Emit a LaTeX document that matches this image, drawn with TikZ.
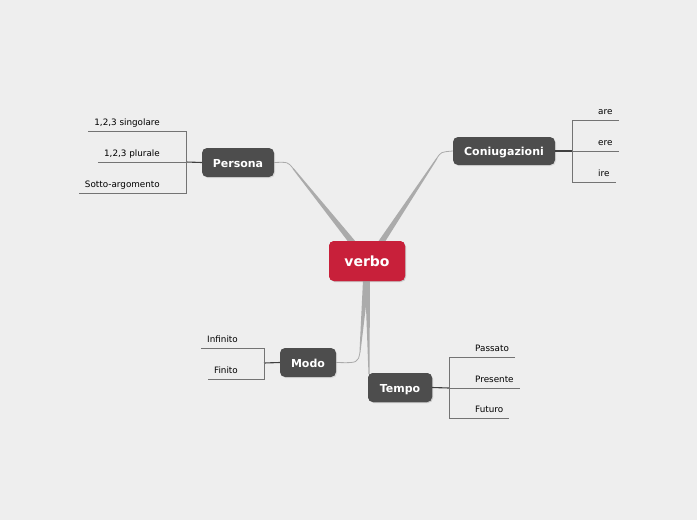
\documentclass[tikz,border=0pt]{standalone}
\usepackage{fontspec}
\setmainfont{DejaVu Sans}
\usetikzlibrary{shadows}
\definecolor{bg}{HTML}{EEEEEE}
\definecolor{topicred}{HTML}{C8203A}
\definecolor{topicgray}{HTML}{4D4D4D}
\definecolor{trunkgray}{HTML}{ABABAB}
\tikzset{
  topic/.style={fill=topicgray, text=white, rounded corners=5pt, font=\fontsize{11}{13}\selectfont\bfseries,
    inner sep=0pt, minimum height=29pt, text height=9pt, text depth=0pt,
    drop shadow={opacity=.18, shadow xshift=1pt, shadow yshift=-1pt}},
  central/.style={topic, fill=topicred, font=\fontsize{14}{16}\selectfont\bfseries, minimum width=76pt,
    minimum height=40pt, text height=11.5pt, text depth=0pt},
  leaf/.style={font=\fontsize{8.8}{10}\selectfont, inner xsep=6pt, inner ysep=3pt, text height=6.5pt, text depth=2pt},
  trunk/.style={fill=trunkgray},
  twig/.style={draw=trunkgray, line width=.8pt},
  stem/.style={draw=black!75, line width=1.1pt},
  rule/.style={draw=black!55, line width=.7pt}
}
\begin{document}
\begin{tikzpicture}[x=1pt,y=-1pt]
  \fill[bg] (0,0) rectangle (697,520);
  \useasboundingbox (0,0) rectangle (697,520);

  % main topics
  \node[central] (verbo) at (367,261) {verbo};
  \node[topic, minimum width=72pt] (persona) at (238,162.5) {Persona};
  \node[topic, minimum width=102pt, minimum height=28pt] (coniug) at (504,151) {Coniugazioni};
  \node[topic, minimum width=56pt] (modo) at (308,362.5) {Modo};
  \node[topic, minimum width=64pt] (tempo) at (400,387.5) {Tempo};

  % branches from the centre
  \fill[trunk] ([xshift=-18pt,yshift=-2pt]verbo.north) -- ([xshift=-12pt]verbo.north) -- (293.5,168) -- (292.5,168.8) -- cycle;
  \draw[twig] (293,168.4) .. controls (288,162) .. (persona.east);
  \fill[trunk] ([xshift=11pt,yshift=-1pt]verbo.north) -- ([xshift=18pt,yshift=-1pt]verbo.north) -- (437.5,158.5) -- (436.5,157.8) -- cycle;
  \draw[twig] (437,158) .. controls (441,152) .. (coniug.west);
  \fill[trunk] ([xshift=-4pt,yshift=1pt]verbo.south) -- ([xshift=2pt,yshift=1pt]verbo.south) -- (360.5,352) -- (359.5,352) -- cycle;
  \draw[twig] (360,352) .. controls (358,363) .. (modo.east);
  \fill[trunk] ([xshift=-2pt,yshift=1pt]verbo.south) -- ([xshift=3pt,yshift=1pt]verbo.south) -- (369.5,374) -- (368.5,374) -- cycle;
  \node[central] at (verbo) {verbo};
  \node[topic, minimum width=64pt] at (tempo) {Tempo};

  % Persona
  \coordinate (pb) at (186,162);
  \node[leaf, anchor=south east] (p1) at (166,131) {1,2,3 singolare};
  \node[leaf, anchor=south east] (p2) at (166,162) {1,2,3 plurale};
  \node[leaf, anchor=south east] (p3) at (166,193) {Sotto-argomento};
  \draw[stem] (persona.west) -- (pb);
  \draw[rule] (p1.south west) -- (p1.south west -| pb) -- (p3.south west -| pb) -- (p3.south west);
  \draw[rule] (p2.south west) -- (pb);

  % Coniugazioni
  \coordinate (cb) at (572,151);
  \node[leaf, anchor=south west] (c1) at (592,120) {are};
  \node[leaf, anchor=south west] (c2) at (592,151) {ere};
  \node[leaf, anchor=south west] (c3) at (592,182) {ire};
  \draw[stem] (coniug.east) -- (cb);
  \draw[rule] (c1.south east) -- (c1.south east -| cb) -- (c3.south east -| cb) -- (c3.south east);
  \draw[rule] (c2.south east) -- (cb);

  % Modo
  \coordinate (mb) at (264,363);
  \node[leaf, anchor=south east] (m1) at (244,348) {Infinito};
  \node[leaf, anchor=south east] (m2) at (244,379) {Finito};
  \draw[stem] (modo.west) -- (mb);
  \draw[rule] (m1.south west) -- (m1.south west -| mb) -- (m2.south west -| mb) -- (m2.south west);

  % Tempo
  \coordinate (tb) at (449,388);
  \node[leaf, anchor=south west] (t1) at (469,357) {Passato};
  \node[leaf, anchor=south west] (t2) at (469,388) {Presente};
  \node[leaf, anchor=south west] (t3) at (469,418) {Futuro};
  \draw[stem] (tempo.east) -- (tb);
  \draw[rule] (t1.south east) -- (t1.south east -| tb) -- (t3.south east -| tb) -- (t3.south east);
  \draw[rule] (t2.south east) -- (tb);
\end{tikzpicture}
\end{document}
